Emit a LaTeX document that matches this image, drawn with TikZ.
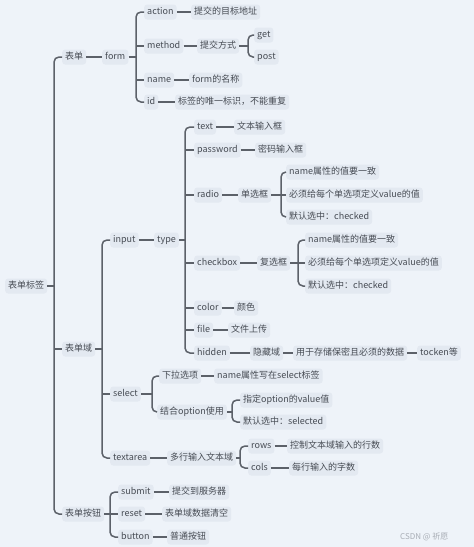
\documentclass[tikz,border=0pt]{standalone}
\usepackage{fontspec}
\newfontfamily\cjk{Noto Sans CJK SC}
\definecolor{bg}{HTML}{EEF3F9}
\definecolor{nbg}{HTML}{E3E9F1}
\definecolor{ln}{HTML}{5C6169}
\definecolor{tx}{HTML}{474C54}
\definecolor{wm}{HTML}{A8ADB5}
\tikzset{
 nd/.style={font=\cjk\fontsize{9}{10}\selectfont, text=tx, fill=nbg, rounded corners=3pt,
   inner xsep=3pt, inner ysep=0pt, minimum height=15pt, text height=7.5pt, text depth=2pt, anchor=west},
 conn/.style={draw=ln, line width=1.5pt, rounded corners=5pt},
}
\newcommand\mynode[4]{\node[nd] (#1) at (#2-3,-#3) {#4};}
\newcommand\trunk[4]{%
 \coordinate (tk) at (#2,0);
 \draw[conn] (#3.west) -| (#1.east -| tk) |- (#4.west);
 \draw[conn] (#1.east) -- (#1.east -| tk);}
\newcommand\midch[1]{\draw[conn] (#1.west -| tk) -- (#1.west);}
\newcommand\lnk[2]{\draw[conn] (#1.east) -- (#2.west);}
\begin{document}
\begin{tikzpicture}[x=1pt,y=1pt]
\fill[bg] (0,0) rectangle (474,-547);
\useasboundingbox (0,0) rectangle (474,-547);
% nodes
\mynode{root}{8}{286}{表单标签}
\mynode{a1}{65}{57}{表单}
\mynode{a2}{65}{349}{表单域}
\mynode{a3}{65}{514}{表单按钮}
\mynode{form}{105}{57}{form}
\mynode{action}{147}{12}{action}
\mynode{method}{147}{46}{method}
\mynode{fname}{147}{80}{name}
\mynode{fid}{147}{102}{id}
\mynode{actionD}{194}{12}{提交的目标地址}
\mynode{methodD}{200}{46}{提交方式}
\mynode{get}{257}{35}{get}
\mynode{post}{257}{57}{post}
\mynode{nameD}{192}{80}{form的名称}
\mynode{idD}{178}{102}{标签的唯一标识，不能重复}
\mynode{input}{113}{240}{input}
\mynode{type}{157}{240}{type}
\mynode{ttext}{197}{127}{text}
\mynode{textD}{237}{127}{文本输入框}
\mynode{pw}{197}{150}{password}
\mynode{pwD}{258}{150}{密码输入框}
\mynode{radio}{197}{195}{radio}
\mynode{radioD}{241}{195}{单选框}
\mynode{ra}{289}{172}{name属性的值要一致}
\mynode{rb}{289}{195}{必须给每个单选项定义value的值}
\mynode{rc}{289}{217}{默认选中：checked}
\mynode{cbox}{197}{263}{checkbox}
\mynode{cbD}{260}{263}{复选框}
\mynode{ca}{308}{240}{name属性的值要一致}
\mynode{cb}{308}{263}{必须给每个单选项定义value的值}
\mynode{cc}{308}{286}{默认选中：checked}
\mynode{tcolor}{197}{308}{color}
\mynode{colorD}{237}{308}{颜色}
\mynode{tfile}{197}{330}{file}
\mynode{fileD}{231}{330}{文件上传}
\mynode{hidden}{197}{353}{hidden}
\mynode{hidD}{253}{353}{隐藏域}
\mynode{hidE}{296}{353}{用于存储保密且必须的数据}
\mynode{tocken}{420}{353}{tocken等}
\mynode{select}{113}{394}{select}
\mynode{sa}{162}{376}{下拉选项}
\mynode{saD}{217}{376}{name属性写在select标签}
\mynode{sb}{160}{412}{结合option使用}
\mynode{sba}{243}{400}{指定option的value值}
\mynode{sbb}{243}{422}{默认选中：selected}
\mynode{tarea}{113}{458}{textarea}
\mynode{taD}{170}{458}{多行输入文本域}
\mynode{rows}{251}{446}{rows}
\mynode{rowsD}{290}{446}{控制文本域输入的行数}
\mynode{cols}{251}{468}{cols}
\mynode{colsD}{292}{468}{每行输入的字数}
\mynode{submit}{121}{492}{submit}
\mynode{subD}{172}{492}{提交到服务器}
\mynode{reset}{121}{514}{reset}
\mynode{resD}{165}{514}{表单域数据清空}
\mynode{button}{121}{537}{button}
\mynode{butD}{170}{537}{普通按钮}
% trunks
\trunk{root}{54}{a1}{a3}\midch{a2}
\trunk{form}{136}{action}{fid}\midch{method}\midch{fname}
\trunk{methodD}{248}{get}{post}
\trunk{a2}{102}{input}{tarea}\midch{select}
\trunk{type}{185}{ttext}{hidden}\midch{pw}\midch{radio}\midch{cbox}\midch{tcolor}\midch{tfile}
\trunk{radioD}{281}{ra}{rc}\midch{rb}
\trunk{cbD}{298}{ca}{cc}\midch{cb}
\trunk{select}{152}{sa}{sb}
\trunk{sb}{232}{sba}{sbb}
\trunk{taD}{240}{rows}{cols}
\trunk{a3}{110}{submit}{button}\midch{reset}
% simple links
\lnk{a1}{form}
\lnk{action}{actionD}
\lnk{method}{methodD}
\lnk{fname}{nameD}
\lnk{fid}{idD}
\lnk{input}{type}
\lnk{ttext}{textD}
\lnk{pw}{pwD}
\lnk{radio}{radioD}
\lnk{cbox}{cbD}
\lnk{tcolor}{colorD}
\lnk{tfile}{fileD}
\lnk{hidden}{hidD}
\lnk{hidD}{hidE}
\lnk{hidE}{tocken}
\lnk{sa}{saD}
\lnk{tarea}{taD}
\lnk{rows}{rowsD}
\lnk{cols}{colsD}
\lnk{submit}{subD}
\lnk{reset}{resD}
\lnk{button}{butD}
% watermark
\node[font=\cjk\fontsize{8}{9}\selectfont, text=wm, anchor=west, inner sep=0pt] (wmk) at (400,-537) {CSDN @ 祈愿};
\end{tikzpicture}
\end{document}
